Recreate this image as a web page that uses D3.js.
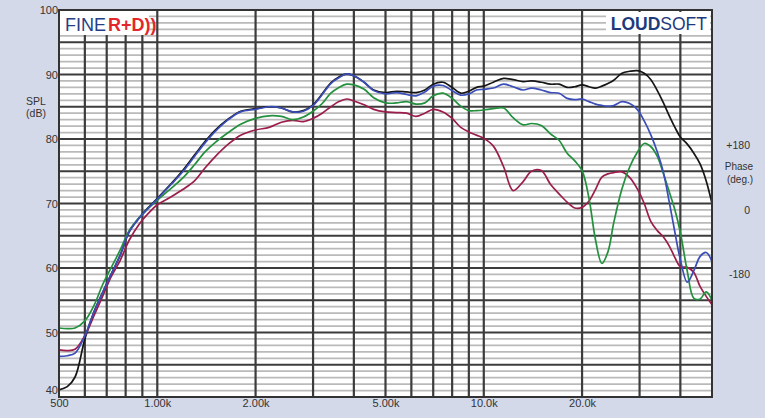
<!DOCTYPE html>
<html>
<head>
<meta charset="utf-8">
<script src="https://cdn.jsdelivr.net/npm/d3@7"></script>
<style>
  html, body { margin: 0; padding: 0; background: #d4d9e9; }
  svg { display: block; }
  text { font-family: "Liberation Sans", Arial, Helvetica, sans-serif; }
</style>
</head>
<body>
<svg id="chart" width="765" height="418"></svg>
<script>
// ---------- data ----------
const freqs = [500, 530, 560, 600, 640, 680, 720, 770, 820, 880, 940, 1000, 1100, 1200, 1300, 1400, 1500, 1650, 1800,
  2000, 2200, 2400, 2600, 2800, 3000, 3200, 3400, 3600, 3800, 4000, 4300, 4600, 5000, 5400, 5800, 6200, 6600, 7000,
  7500, 8000, 8500, 9000, 9500, 10000, 10700, 11500, 12300, 13200, 14000, 15000, 16000, 17000, 18000, 19000, 20000,
  21000, 22000, 23000, 24000, 25000, 26500, 28000, 29500, 31000, 32500, 34000, 35500, 37000, 38500, 40000, 42000,
  44000, 46000, 48000, 50000];

const splBlack = [41.1, 41.6, 43.1, 49.0, 53.2, 56.2, 58.9, 62.0, 65.6, 67.8, 69.4, 70.8, 73.0, 75.2, 77.5, 79.6, 81.3, 83.1, 84.3,
  84.7, 85.0, 84.8, 84.2, 84.4, 85.3, 87.0, 88.7, 89.6, 90.1, 89.8, 88.8, 87.6, 87.2, 87.4, 87.3, 87.2, 87.6, 88.5,
  88.8, 88.0, 87.1, 87.4, 88.0, 88.2, 88.8, 89.4, 89.2, 88.9, 89.0, 88.8, 88.5, 88.5, 88.0, 88.1, 88.4,
  88.1, 87.9, 88.2, 88.6, 89.1, 90.2, 90.5, 90.6, 90.2, 89.2, 87.5, 85.6, 83.6, 81.8, 80.3, 79.2,
  77.8, 76.1, 73.5, 70.0];

const splBlue = [46.3, 46.4, 46.8, 49.5, 53.2, 56.2, 58.9, 62.0, 65.6, 67.7, 69.3, 70.7, 72.9, 75.0, 77.3, 79.4, 81.1, 83.0, 84.2,
  84.6, 85.0, 84.8, 84.2, 84.3, 85.2, 86.9, 88.6, 89.5, 90.1, 89.8, 88.8, 87.5, 87.0, 87.2, 86.9, 86.7, 87.3, 88.2,
  88.3, 87.5, 86.8, 87.0, 87.6, 87.7, 87.9, 88.5, 88.1, 87.6, 87.9, 87.6, 87.2, 87.1, 86.3, 86.1, 86.2,
  85.8, 85.4, 85.2, 85.1, 85.2, 85.8, 85.5, 84.6, 82.8, 80.6, 78.0, 74.8, 70.2, 65.5, 61.3, 57.8,
  59.6, 61.8, 62.4, 61.0];

const splGreen = [50.7, 50.6, 50.7, 51.8, 54.2, 57.4, 59.9, 62.8, 65.8, 67.8, 69.3, 70.5, 72.3, 74.0, 76.0, 78.0, 79.4, 81.0, 82.3,
  83.2, 83.6, 83.5, 83.0, 83.4, 84.3, 85.5, 87.1, 88.0, 88.5, 88.4, 87.7, 86.4, 85.6, 85.6, 85.8, 85.4, 85.6, 86.7,
  87.1, 86.3, 85.1, 84.4, 84.4, 84.5, 84.7, 84.8, 83.3, 82.2, 82.4, 82.1, 80.8, 79.8, 77.8, 76.6, 75.1,
  70.8, 64.3, 60.7, 62.5, 67.0, 72.3, 75.7, 77.9, 79.3, 78.8, 77.3, 74.6, 71.8, 69.0, 65.5, 59.5,
  55.3, 55.2, 56.3, 55.0];

const splRed = [47.3, 47.2, 47.4, 49.5, 52.6, 55.6, 58.5, 61.2, 64.3, 66.8, 68.5, 69.8, 71.0, 72.2, 73.5, 75.5, 77.2, 79.2, 80.6,
  81.4, 81.8, 82.6, 82.9, 82.7, 83.2, 84.0, 85.0, 85.8, 86.2, 85.9, 85.3, 84.6, 84.2, 84.1, 84.0, 83.5, 84.0, 84.6,
  84.2, 83.2, 81.8, 81.1, 80.6, 80.1, 78.9, 75.7, 72.0, 73.4, 75.0, 75.1, 73.0, 71.5, 70.2, 69.3, 69.4,
  70.4, 72.2, 74.1, 74.6, 74.8, 74.9, 74.0, 72.3, 70.0, 67.2, 65.8, 64.8, 63.4, 61.6, 60.2, 60.1,
  59.3, 57.1, 55.6, 54.3];

const seriesNames = ["0 deg", "45 deg", "30 deg", "15 deg"];
const seriesColors = ["#151515", "#9b1d4b", "#22903c", "#3a4db8"];
const seriesValues = [splBlack, splRed, splGreen, splBlue];

const yTicks = [40, 50, 60, 70, 80, 90, 100];
const xTicks = [500, 1000, 2000, 5000, 10000, 20000];
const xTickLabels = ["500", "1.00k", "2.00k", "5.00k", "10.0k", "20.0k"];
const xGrid = [600, 700, 800, 900, 1000, 2000, 3000, 4000, 5000, 6000, 7000, 8000, 9000, 10000, 20000, 30000, 40000];
const phaseLabels = ["+180", "0", "-180"];
const phaseLevels = [79, 69, 59];

// ---------- layout ----------
const svg = d3.select("#chart");
const L = 59, R = 712, T = 10, B = 397;

const x = d3.scaleLog().domain([500, 50000]).range([L, R]);
const y = d3.scaleLinear().domain([40, 100]).range([B, T]);

svg.append("rect").attr("x", L).attr("y", T).attr("width", R - L).attr("height", B - T).attr("fill", "#ffffff");

// minor horizontal gridlines (1 dB)
const gGrid = svg.append("g");
gGrid.selectAll("line.minor").data(d3.range(41, 100).filter(v => v % 5 !== 0)).join("line")
  .attr("x1", L).attr("x2", R).attr("y1", d => y(d)).attr("y2", d => y(d))
  .attr("stroke", "#bababa").attr("stroke-width", 1.8);
// major horizontal gridlines (5 dB)
gGrid.selectAll("line.major").data(d3.range(45, 100, 5)).join("line")
  .attr("x1", L).attr("x2", R).attr("y1", d => y(d)).attr("y2", d => y(d))
  .attr("stroke", "#3c3c3c").attr("stroke-width", 2.2);
// vertical gridlines
gGrid.selectAll("line.vert").data(xGrid).join("line")
  .attr("x1", d => x(d)).attr("x2", d => x(d)).attr("y1", T).attr("y2", B)
  .attr("stroke", "#3c3c3c").attr("stroke-width", 2.2);

// logo boxes (white background over grid)
svg.append("rect").attr("x", L + 1).attr("y", T + 1).attr("width", 89).attr("height", 24).attr("fill", "#ffffff");
svg.append("rect").attr("x", 606).attr("y", T + 2).attr("width", 104).attr("height", 22).attr("fill", "#ffffff");

// curves
const line = d3.line()
  .x((d, i) => x(freqs[i]))
  .y(d => y(d))
  .curve(d3.curveCatmullRom.alpha(0.5));

const clip = svg.append("clipPath").attr("id", "plotclip");
clip.append("rect").attr("x", L).attr("y", T).attr("width", R - L).attr("height", B - T);

svg.append("g").attr("clip-path", "url(#plotclip)")
  .selectAll("path").data(seriesValues).join("path")
  .attr("d", d => line(d))
  .attr("fill", "none")
  .attr("stroke", (d, i) => seriesColors[i])
  .attr("stroke-width", 1.7)
  .attr("stroke-linejoin", "round");

// frame
svg.append("rect").attr("x", L).attr("y", T).attr("width", R - L).attr("height", B - T)
  .attr("fill", "none").attr("stroke", "#333333").attr("stroke-width", 2);

// axes
const yAxis = svg.append("g").attr("transform", `translate(${L},0)`)
  .call(d3.axisLeft(y).tickValues(yTicks).tickSize(0).tickPadding(1).tickFormat(d3.format("d")));
yAxis.select(".domain").remove();
yAxis.selectAll("text").attr("font-size", 11).attr("fill", "#333")
  .attr("dy", d => d === 40 ? "-0.35em" : "0.32em");

const xAxis = svg.append("g").attr("transform", `translate(0,${B})`)
  .call(d3.axisBottom(x).tickValues(xTicks).tickSize(0).tickPadding(2)
    .tickFormat((d, i) => xTickLabels[i]));
xAxis.select(".domain").remove();
xAxis.selectAll("text").attr("font-size", 11).attr("fill", "#333");

// axis titles
svg.append("text").attr("x", 36).attr("y", 105).attr("text-anchor", "middle")
  .attr("font-size", 10.5).attr("fill", "#333").text("SPL");
svg.append("text").attr("x", 36).attr("y", 117).attr("text-anchor", "middle")
  .attr("font-size", 10.5).attr("fill", "#333").text("(dB)");

svg.selectAll("text.phase").data(phaseLabels).join("text")
  .attr("class", "phase")
  .attr("x", 750).attr("y", (d, i) => y(phaseLevels[i]) + 4)
  .attr("text-anchor", "end").attr("font-size", 10.5).attr("fill", "#333")
  .text(d => d);
svg.append("text").attr("x", 739).attr("y", 170).attr("text-anchor", "middle")
  .attr("font-size", 10).attr("fill", "#333").text("Phase");
svg.append("text").attr("x", 740).attr("y", 182.5).attr("text-anchor", "middle")
  .attr("font-size", 10).attr("fill", "#333").text("(deg.)");

// logos
const logo1 = svg.append("text").attr("x", 65).attr("y", 31).attr("font-size", 18).attr("font-weight", "normal");
logo1.append("tspan").attr("fill", "#243f86").text("FINE");
logo1.append("tspan").attr("fill", "#e3262b").attr("font-weight", "bold").attr("dx", 2).text("R+D))");

const logo2 = svg.append("text").attr("x", 707).attr("y", 30).attr("text-anchor", "end").attr("font-size", 17.5);
logo2.append("tspan").attr("fill", "#1e3a7c").attr("font-weight", "bold").text("LOUD");
logo2.append("tspan").attr("fill", "#1e3a7c").text("SOFT");
</script>
</body>
</html>
